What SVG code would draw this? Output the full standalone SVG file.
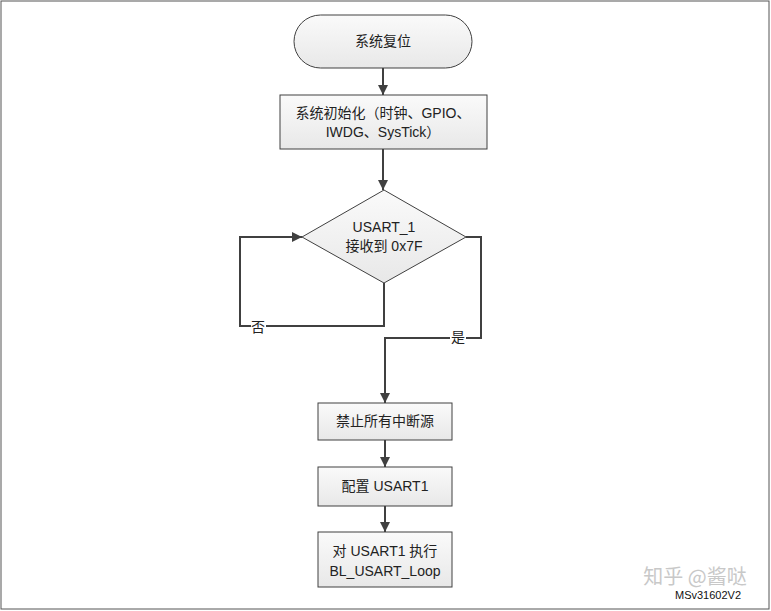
<svg xmlns="http://www.w3.org/2000/svg" width="771" height="611" viewBox="0 0 771 611">
<defs>
<linearGradient id="g" x1="0" y1="0" x2="0" y2="1"><stop offset="0" stop-color="#fafafa"/><stop offset="1" stop-color="#e8e8e8"/></linearGradient>
<marker id="a" viewBox="0 0 10 10" refX="10" refY="5" markerWidth="10" markerHeight="10" markerUnits="userSpaceOnUse" orient="auto"><path d="M0,0L10,5L0,10z" fill="#404040"/></marker>
<style>
.n{fill:url(#g);stroke:#404040;stroke-width:1}
.t{font-family:"Liberation Sans","Noto Sans CJK SC",sans-serif;font-size:14px;fill:#222;text-anchor:middle}
.c{fill:none;stroke:#404040;stroke-width:2;marker-end:url(#a)}
.l{fill:none;stroke:#404040;stroke-width:2}
</style>
</defs>
<rect width="771" height="611" fill="#fff"/>
<rect x="1" y="1" width="768" height="608" fill="none" stroke="#555" stroke-width="1"/>
<g id="connectors">
<path class="c" d="M383,68V95"/>
<path class="c" d="M383,149V190"/>
<path class="c" d="M384,283V326H240V237H302"/>
<path class="c" d="M466,237H481V338H385V403"/>
<path class="c" d="M385,440V467"/>
<path class="c" d="M385,506V532"/>
<rect x="251" y="318" width="15" height="16" fill="#fff"/>
<text class="t" x="258" y="332">否</text>
<rect x="450" y="329" width="16" height="16" fill="#fff"/>
<text class="t" x="458" y="342">是</text>
</g>
<g id="start"><rect class="n" x="294" y="15" width="178" height="53" rx="26.5"/><text class="t" x="383" y="46">系统复位</text></g>
<g id="init"><rect class="n" x="280" y="95" width="207" height="54"/><text class="t" x="383" y="118">系统初始化（时钟、GPIO、</text><text class="t" x="383" y="137">IWDG、SysTick）</text></g>
<g id="decision"><path class="n" d="M384,190L466,237L384,283L302,237Z"/><text class="t" x="384" y="232">USART_1</text><text class="t" x="384" y="251">接收到 0x7F</text></g>
<g id="disable"><rect class="n" x="318" y="403" width="134" height="37"/><text class="t" x="385" y="426">禁止所有中断源</text></g>
<g id="config"><rect class="n" x="318" y="467" width="134" height="39"/><text class="t" x="385" y="491">配置 USART1</text></g>
<g id="loop"><rect class="n" x="318" y="532" width="134" height="55"/><text class="t" x="385" y="556">对 USART1 执行</text><text class="t" x="385" y="576">BL_USART_Loop</text></g>
<text x="695" y="584" font-family="'Noto Sans CJK SC',sans-serif" font-size="20" fill="#c8c8c8" text-anchor="middle">知乎 @酱哒</text>
<text x="708" y="599" font-family="'Liberation Sans',sans-serif" font-size="11" fill="#111" text-anchor="middle">MSv31602V2</text>
</svg>
